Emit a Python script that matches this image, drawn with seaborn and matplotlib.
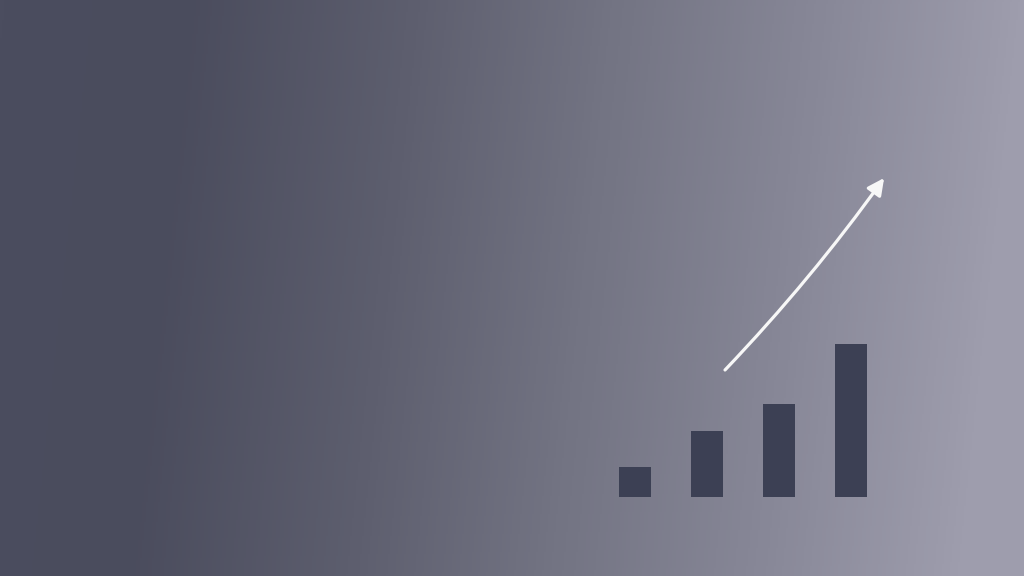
import numpy as np
import pandas as pd
import matplotlib
matplotlib.use("Agg")
import matplotlib.pyplot as plt
from matplotlib.colors import LinearSegmentedColormap
import seaborn as sns

# Bar data (relative heights)
categories = ["Q1", "Q2", "Q3", "Q4"]
values = [30, 66, 93, 153]

# Trend arrow, in bar-axis units (category position, value)
trend_start = (1.25, 127)
trend_end = (3.46, 319)

# Background gradient stops, left to right
bg_stops = [0.0, 0.18, 0.4, 0.6, 0.8, 1.0]
bg_colors = ["#4b4d5f", "#4a4c5d", "#5d5e6e", "#737483", "#878797", "#9e9dad"]

sns.set_style("white")

fig = plt.figure(figsize=(10.24, 5.76), dpi=100)

# Background
bg = fig.add_axes([0, 0, 1, 1])
cmap = LinearSegmentedColormap.from_list("bg", list(zip(bg_stops, bg_colors)))
xx, yy = np.meshgrid(np.linspace(0, 1, 512), np.linspace(0, 1, 288))
grad = np.clip(xx + 0.06 * yy, 0, 1)
bg.imshow(grad, cmap=cmap, aspect="auto", extent=[0, 1, 0, 1], origin="upper", vmin=0, vmax=1)
bg.set_axis_off()

# Bars
ax = fig.add_axes([599 / 1024, 79 / 576, 288 / 1024, 340 / 576])
df = pd.DataFrame({"cat": categories, "val": values})
sns.barplot(data=df, x="cat", y="val", color="#3c4054", width=0.444,
            saturation=1, linewidth=0, ax=ax)
ax.set_xlim(-0.5, 3.5)
ax.set_ylim(0, 340)
ax.set_axis_off()
ax.patch.set_alpha(0)

ax.annotate("", xy=trend_end, xytext=trend_start,
            arrowprops=dict(arrowstyle="-|>,head_length=1.0,head_width=0.5",
                            color="#f7f7f7", lw=2.3,
                            connectionstyle="arc3,rad=0.035",
                            shrinkA=0, shrinkB=0),
            annotation_clip=False)

fig.savefig("out.png", dpi=100)
